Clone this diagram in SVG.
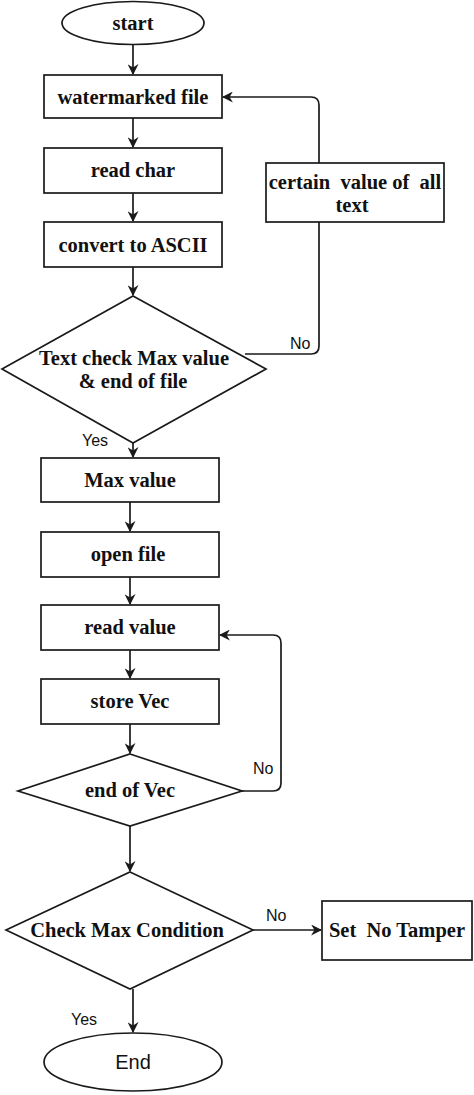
<svg xmlns="http://www.w3.org/2000/svg" width="474" height="1095" viewBox="0 0 474 1095">
<defs>
<marker id="arr" viewBox="0 0 10 10" refX="9" refY="5" markerWidth="11" markerHeight="11" markerUnits="userSpaceOnUse" orient="auto">
<path d="M0,0 L10,5 L0,10 L3,5 Z" fill="#1a1a1a"/>
</marker>
</defs>
<style>
.shape{fill:#fff;stroke:#1a1a1a;stroke-width:1.7}
.t{font-family:"Liberation Serif","Times New Roman",serif;font-weight:bold;font-size:20.5px;fill:#111;text-anchor:middle;white-space:pre}
.l{font-family:"Liberation Sans",Arial,sans-serif;font-size:16px;fill:#111}
.c{fill:none;stroke:#1a1a1a;stroke-width:1.7}
</style>
<rect width="474" height="1095" fill="#fff"/>
<g id="connectors">
<path class="c" d="M133,45 V74" marker-end="url(#arr)"/>
<path class="c" d="M133,118 V147" marker-end="url(#arr)"/>
<path class="c" d="M133,193 V221" marker-end="url(#arr)"/>
<path class="c" d="M133,267 V295" marker-end="url(#arr)"/>
<path class="c" d="M245,354 H311 Q319,354 319,346 V105 Q319,97 311,97 H223" marker-end="url(#arr)"/>
<path class="c" d="M133,443 V457" marker-end="url(#arr)"/>
<path class="c" d="M130,502 V531" marker-end="url(#arr)"/>
<path class="c" d="M130,577 V604" marker-end="url(#arr)"/>
<path class="c" d="M130,650 V678" marker-end="url(#arr)"/>
<path class="c" d="M130,724 V753" marker-end="url(#arr)"/>
<path class="c" d="M242,791 H273 Q281,791 281,783 V643 Q281,635 273,635 H220" marker-end="url(#arr)"/>
<path class="c" d="M130,826 V871" marker-end="url(#arr)"/>
<path class="c" d="M253,930 H321" marker-end="url(#arr)"/>
<path class="c" d="M133,989 V1032" marker-end="url(#arr)"/>
<text class="l" x="290" y="349">No</text>
<text class="l" x="82" y="446">Yes</text>
<text class="l" x="253" y="774">No</text>
<text class="l" x="266" y="921">No</text>
<text class="l" x="71" y="1025">Yes</text>
</g>
<g id="start"><ellipse class="shape" cx="133" cy="23" rx="71" ry="21.5"/><text class="t" x="133" y="30">start</text></g>
<g id="watermarked"><rect class="shape" x="44" y="75" width="178" height="43"/><text class="t" x="133" y="104">watermarked file</text></g>
<g id="readchar"><rect class="shape" x="44" y="148" width="178" height="45"/><text class="t" x="133" y="177">read char</text></g>
<g id="ascii"><rect class="shape" x="44" y="222" width="178" height="45"/><text class="t" x="133" y="252">convert to ASCII</text></g>
<g id="certain"><rect class="shape" x="266" y="163" width="178" height="59"/><text class="t" x="355" y="189" xml:space="preserve">certain  value of  all</text><text class="t" x="352" y="212">text</text></g>
<g id="check1"><polygon class="shape" points="133,296 266,369 133,443 2,369"/><text class="t" x="134" y="365">Text check Max value</text><text class="t" x="133" y="388">&amp; end of file</text></g>
<g id="maxvalue"><rect class="shape" x="41" y="458" width="178" height="44"/><text class="t" x="130" y="487">Max value</text></g>
<g id="openfile"><rect class="shape" x="41" y="532" width="178" height="45"/><text class="t" x="128" y="561">open file</text></g>
<g id="readvalue"><rect class="shape" x="41" y="605" width="178" height="45"/><text class="t" x="130" y="634">read value</text></g>
<g id="storevec"><rect class="shape" x="41" y="679" width="178" height="45"/><text class="t" x="130" y="708">store Vec</text></g>
<g id="endvec"><polygon class="shape" points="130,754 242,791 130,826 18,791"/><text class="t" x="130" y="797">end of Vec</text></g>
<g id="check2"><polygon class="shape" points="130,872 253,930 130,989 6,930"/><text class="t" x="127" y="937">Check Max Condition</text></g>
<g id="notamper"><rect class="shape" x="322" y="901" width="150" height="59"/><text class="t" x="397" y="937" xml:space="preserve">Set  No Tamper</text></g>
<g id="end"><ellipse class="shape" cx="133" cy="1062" rx="89" ry="29"/><text x="133" y="1069" style="font-family:'Liberation Sans',Arial,sans-serif;font-size:20px;fill:#111;text-anchor:middle">End</text></g>
</svg>
